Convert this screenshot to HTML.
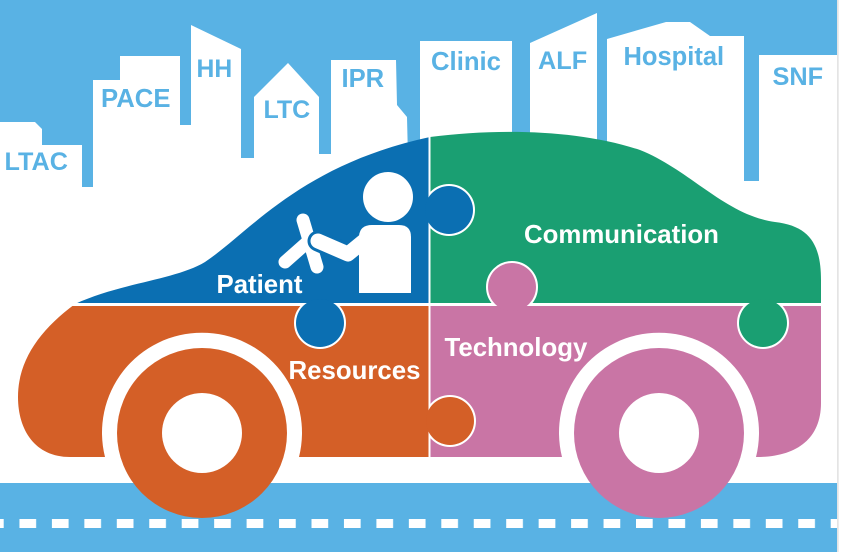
<!DOCTYPE html>
<html><head><meta charset="utf-8">
<style>
html,body{margin:0;padding:0;background:#fff;width:842px;height:552px;overflow:hidden;}
svg{display:block}
text{font-family:"Liberation Sans",Arial,sans-serif;font-weight:700;}
</style></head>
<body>
<svg width="842" height="552" viewBox="0 0 842 552" xmlns="http://www.w3.org/2000/svg">
<defs>
<clipPath id="car"><path d="M 75 304 C 120 283, 175 280, 205 262 C 250 232, 300 165, 430 137 C 500 128, 580 130, 640 150 C 690 170, 725 215, 775 222 C 810 226, 821 245, 821 280 L 821 403 C 821 440, 795 457, 757 457 L 756 457 A 100 100 0 1 0 562 457 L 299 457 A 100 100 0 1 0 105 457 L 70 457 C 35 457, 18 430, 18 397 C 18 360, 40 330, 75 304 Z"/></clipPath>
<pattern id="dash" x="-13" y="0" width="32.45" height="552" patternUnits="userSpaceOnUse"><rect x="0" y="0" width="16.7" height="552" fill="#fff"/></pattern>
</defs>

<!-- sky -->
<rect x="0" y="0" width="842" height="552" fill="#fff"/>
<rect x="0" y="0" width="837" height="190" fill="#59b2e4"/>

<!-- buildings -->
<g fill="#fff">
<polygon points="0,122 35,122 42,129 42,145 82,145 82,200 0,200"/>
<polygon points="93,80 120,80 120,56 180,56 180,200 93,200"/>
<polygon points="191,25 241,49 241,200 191,200"/>
<polygon points="254,97 288,63 319,97 319,200 254,200"/>
<polygon points="331,60 396,60 397,105 407,117 409,200 331,200"/>
<polygon points="420,41 512,41 512,200 420,200"/>
<polygon points="530,43 597,13 597,200 530,200"/>
<polygon points="607,39 666,22 690,22 710,36 744,36 744,200 607,200"/>
<polygon points="759,55 842,55 842,200 759,200"/>
<!-- gap bottoms -->
<rect x="80" y="187" width="15" height="15"/>
<rect x="178" y="125" width="15" height="77"/>
<rect x="239" y="158" width="17" height="44"/>
<rect x="317" y="154" width="16" height="48"/>
<rect x="742" y="181" width="19" height="21"/>
</g>

<!-- building labels -->
<g fill="#59b2e4">
<text x="4.5" y="170" font-size="25.2">LTAC</text>
<text x="101" y="107" font-size="25.7">PACE</text>
<text x="196.5" y="77" font-size="24.7">HH</text>
<text x="263.5" y="118" font-size="25">LTC</text>
<text x="341.5" y="87" font-size="25.6">IPR</text>
<text x="431" y="70" font-size="25.7">Clinic</text>
<text x="538" y="69" font-size="25.3">ALF</text>
<text x="623.5" y="65" font-size="25.5">Hospital</text>
<text x="772.5" y="85" font-size="25.3">SNF</text>
</g>

<!-- car body quadrants -->
<g clip-path="url(#car)">
<rect x="0" y="0" width="428.5" height="303" fill="#0b6fb2"/>
<rect x="430.5" y="0" width="420" height="303" fill="#1a9f72"/>
<rect x="0" y="306" width="428.5" height="200" fill="#d45f27"/>
<rect x="430.5" y="306" width="420" height="200" fill="#c975a5"/>
</g>

<!-- knobs -->
<circle cx="449" cy="210" r="24" fill="#0b6fb2" stroke="#fff" stroke-width="4"/>
<rect x="420" y="186" width="8.5" height="48" fill="#0b6fb2"/>
<circle cx="449" cy="210" r="24" fill="#0b6fb2"/>

<circle cx="512" cy="287" r="24" fill="#c975a5" stroke="#fff" stroke-width="4"/>
<rect x="484" y="306" width="56" height="10" fill="#c975a5"/>
<circle cx="512" cy="287" r="24" fill="#c975a5"/>

<circle cx="320" cy="323" r="24" fill="#0b6fb2" stroke="#fff" stroke-width="4"/>
<rect x="292" y="296" width="56" height="7" fill="#0b6fb2"/>
<circle cx="320" cy="323" r="24" fill="#0b6fb2"/>

<circle cx="763" cy="323" r="24" fill="#1a9f72" stroke="#fff" stroke-width="4"/>
<rect x="735" y="296" width="56" height="7" fill="#1a9f72"/>
<circle cx="763" cy="323" r="24" fill="#1a9f72"/>

<circle cx="450" cy="421" r="24" fill="#d45f27" stroke="#fff" stroke-width="4"/>
<rect x="421" y="393" width="7.5" height="56" fill="#d45f27"/>
<circle cx="450" cy="421" r="24" fill="#d45f27"/>

<!-- patient icon -->
<g stroke-linecap="round" stroke-linejoin="round" fill="none">
<line x1="303" y1="220" x2="317" y2="267" stroke="#fff" stroke-width="13"/>
<line x1="285" y1="262" x2="311" y2="239" stroke="#fff" stroke-width="13"/>
<line x1="318" y1="241" x2="348" y2="254" stroke="#0b6fb2" stroke-width="21"/>
</g>
<circle cx="388" cy="197" r="25" fill="#fff"/>
<path d="M 359 236 Q 360 225 372 225 L 399 225 Q 411 225 411 237 L 411 293 L 359 293 Z" fill="#fff"/>
<polyline points="370,236 348,254 318,241" fill="none" stroke="#fff" stroke-width="15" stroke-linecap="round" stroke-linejoin="round"/>

<!-- car labels -->
<g fill="#fff" font-size="25.8">
<text x="216.5" y="293">Patient</text>
<text x="524" y="243">Communication</text>
<text x="444.5" y="356">Technology</text>
<text x="288.5" y="379">Resources</text>
</g>

<!-- road -->
<rect x="0" y="483" width="837" height="69" fill="#59b2e4"/>
<rect x="0" y="519" width="837" height="9" fill="url(#dash)"/>

<!-- wheels -->
<circle cx="202" cy="433" r="85" fill="#d45f27"/>
<circle cx="202" cy="433" r="40" fill="#fff"/>
<circle cx="659" cy="433" r="85" fill="#c975a5"/>
<circle cx="659" cy="433" r="40" fill="#fff"/>

<!-- right border -->
<rect x="837" y="0" width="5" height="552" fill="#fff"/>
<rect x="837.3" y="0" width="1.2" height="552" fill="#d9d9d9"/>
</svg>
</body></html>
